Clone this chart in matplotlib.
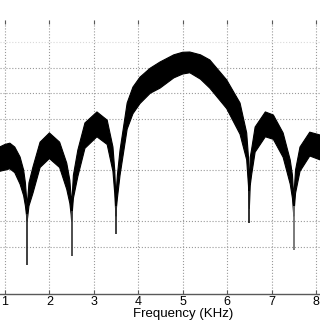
import matplotlib
matplotlib.use("Agg")
import matplotlib.pyplot as plt

# Spectrum band (upper / lower envelope of the noisy magnitude, dB)
freq_khz = [0.88, 1.00, 1.11, 1.22, 1.34, 1.42, 1.46, 1.49, 1.50, 1.51, 1.54, 1.63,
            1.79, 2.00, 2.23, 2.39, 2.46, 2.49, 2.50, 2.51, 2.54, 2.64, 2.80, 3.07,
            3.30, 3.43, 3.47, 3.49, 3.50, 3.51, 3.53, 3.59, 3.75, 3.88, 4.04, 4.27,
            4.49, 4.80, 5.00, 5.16, 5.40, 5.61, 5.99, 6.29, 6.44, 6.48, 6.50, 6.52,
            6.55, 6.63, 6.86, 7.04, 7.26, 7.42, 7.47, 7.49, 7.50, 7.51, 7.54, 7.64,
            7.86, 8.09]
upper_db = [-41.0, -40.0, -39.5, -41.0, -44.9, -50.0, -55.0, -62.0, -67.0, -62.0, -55.0, -48.8,
            -39.1, -35.5, -39.1, -47.3, -54.0, -61.0, -66.0, -61.0, -52.0, -42.2, -31.6, -27.3,
            -30.5, -41.0, -50.0, -58.0, -64.0, -57.0, -52.0, -42.2, -23.8, -17.6, -13.7, -10.2,
            -7.8, -5.0, -4.0, -3.9, -5.0, -7.0, -14.8, -23.8, -35.5, -45.0, -58.0, -45.0,
            -42.0, -33.2, -27.3, -28.5, -35.5, -46.1, -52.0, -58.0, -64.0, -58.0, -50.0, -41.0,
            -35.2, -36.3]
lower_db = [-50.5, -50.0, -49.5, -51.0, -55.5, -60.0, -64.0, -68.5, -70.0, -68.5, -64.0, -59.0,
            -49.0, -45.5, -49.0, -57.5, -63.0, -67.5, -70.0, -67.5, -61.0, -52.5, -41.5, -37.0,
            -40.0, -50.5, -59.0, -65.5, -68.0, -64.5, -61.0, -52.0, -34.0, -28.0, -24.0, -20.0,
            -18.0, -14.0, -12.5, -12.0, -14.5, -18.0, -26.0, -36.0, -46.0, -56.0, -65.0, -56.0,
            -52.0, -43.0, -37.0, -38.0, -45.0, -55.5, -61.0, -65.5, -68.0, -65.5, -59.0, -50.5,
            -44.5, -46.0]

# Deep notches (spikes)
null_khz = [1.5, 2.5, 3.5, 6.5, 7.5]
null_depth_db = [-87.1, -83.6, -75.0, -70.7, -81.3]
null_top_db = [-67.0, -66.0, -64.0, -58.0, -64.0]
null_colors = ["#303030", "#404040", "#303030", "#202020", "#707070"]

x_ticks = [1, 2, 3, 4, 5, 6, 7, 8]
y_grid = [-10, -20, -30, -50, -70, -80]
xlabel = "Frequency (KHz)"

plt.rcParams["font.family"] = ["Liberation Sans", "DejaVu Sans"]
fig = plt.figure(figsize=(3.2, 3.2), dpi=100)
ax = fig.add_axes([0.0, 1 - 294 / 320, 1.0, (294 - 20) / 320])

ax.fill_between(freq_khz, lower_db, upper_db, color="black", linewidth=0.8,
                edgecolor="black", zorder=3)
for f, d, t, c in zip(null_khz, null_depth_db, null_top_db, null_colors):
    ax.vlines(f, d, t, color=c, linewidth=1.3, zorder=3)

ax.set_xlim(0.888, 8.09)
ax.set_ylim(-98.4, 8.6)
ax.set_xticks(x_ticks)
ax.set_xticklabels([str(t) for t in x_ticks], fontsize=9)
ax.set_yticks(y_grid)
ax.set_yticklabels([])
ax.grid(True, linestyle=":", color="0.6", linewidth=0.8, zorder=1)
ax.axhline(0, linestyle=":", color="0.85", linewidth=0.8, zorder=1)

for s in ["top", "left", "right"]:
    ax.spines[s].set_visible(False)
ax.spines["bottom"].set_color("0.35")
ax.spines["bottom"].set_linewidth(1.0)
ax.tick_params(axis="x", direction="in", length=3, top=True, color="0.35",
               pad=1.5, labelcolor="black")
ax.tick_params(axis="y", left=False, right=False)

ax.set_xlabel(xlabel, fontsize=9.5, va="center")
ax.xaxis.set_label_coords(183 / 320, -20.5 / 274)

fig.savefig("out.png", dpi=100)
